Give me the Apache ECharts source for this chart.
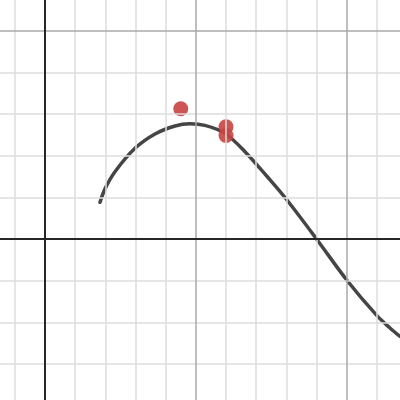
<!DOCTYPE html>
<html>
<head>
<meta charset="utf-8">
<style>html,body{margin:0;padding:0;background:#fff}#c{width:400px;height:400px}</style>
<script src="https://cdn.jsdelivr.net/npm/echarts/dist/echarts.min.js"></script>
</head>
<body>
<div id="c"></div>
<script>
// axis ranges (data units)
const xRange = [-1.4917, 11.767];
const yRange = [-3.859, 5.740];
// grid line positions
const gridX = [-1, 1, 2, 3, 4, 6, 7, 8, 9, 11];
const majorX = [5, 10];
const gridY = [-3, -2, -1, 1, 2, 3, 4];
const majorY = [5];
// curve samples
const curveX = [1.823, 2.000, 2.320, 2.983, 3.646, 4.309, 4.800, 5.300, 5.966, 6.629, 7.390, 8.020, 9.006, 10.000, 10.995, 11.435, 11.767];
const curveY = [0.886, 1.225, 1.620, 2.181, 2.525, 2.717, 2.770, 2.730, 2.540, 2.100, 1.480, 0.940, 0.000, -0.979, -1.830, -2.130, -2.335];
// red points
const pointX = [4.5, 6.0, 6.0];
const pointY = [3.13, 2.70, 2.49];

const minorStyle = {color: '#dcdcdc', width: 1.5, type: 'solid'};
const majorStyle = {color: '#a9a9a9', width: 1.5, type: 'solid'};
const axisStyle = {color: '#262626', width: 2, type: 'solid'};

const gridLines = [];
gridX.forEach(v => gridLines.push({xAxis: v, lineStyle: minorStyle}));
gridY.forEach(v => gridLines.push({yAxis: v, lineStyle: minorStyle}));
majorX.forEach(v => gridLines.push({xAxis: v, lineStyle: majorStyle}));
majorY.forEach(v => gridLines.push({yAxis: v, lineStyle: majorStyle}));
gridLines.push({xAxis: 0, lineStyle: axisStyle});
gridLines.push({yAxis: 0, lineStyle: axisStyle});

const chart = echarts.init(document.getElementById('c'), null, {renderer: 'canvas'});
chart.setOption({
  animation: false,
  backgroundColor: '#ffffff',
  grid: {left: 0, right: 0, top: 0, bottom: 0},
  xAxis: {type: 'value', min: xRange[0], max: xRange[1], axisLine: {show: false}, axisTick: {show: false}, axisLabel: {show: false}, splitLine: {show: false}},
  yAxis: {type: 'value', min: yRange[0], max: yRange[1], axisLine: {show: false}, axisTick: {show: false}, axisLabel: {show: false}, splitLine: {show: false}},
  series: [
    {
      type: 'line', data: [], z: 1, silent: true,
      markLine: {silent: true, symbol: ['none', 'none'], label: {show: false}, animation: false, emphasis: {disabled: true}, data: gridLines}
    },
    {
      type: 'line', z: 3, silent: true, smooth: 0.33, showSymbol: false,
      data: curveX.map((x, i) => [x, curveY[i]]),
      lineStyle: {color: '#454545', width: 3.5, cap: 'round'}
    },
    {
      type: 'scatter', z: 4, silent: true, symbolSize: 15,
      data: pointX.map((x, i) => [x, pointY[i]]),
      itemStyle: {color: '#c74440', opacity: 0.9}
    }
  ]
});
</script>
</body>
</html>
